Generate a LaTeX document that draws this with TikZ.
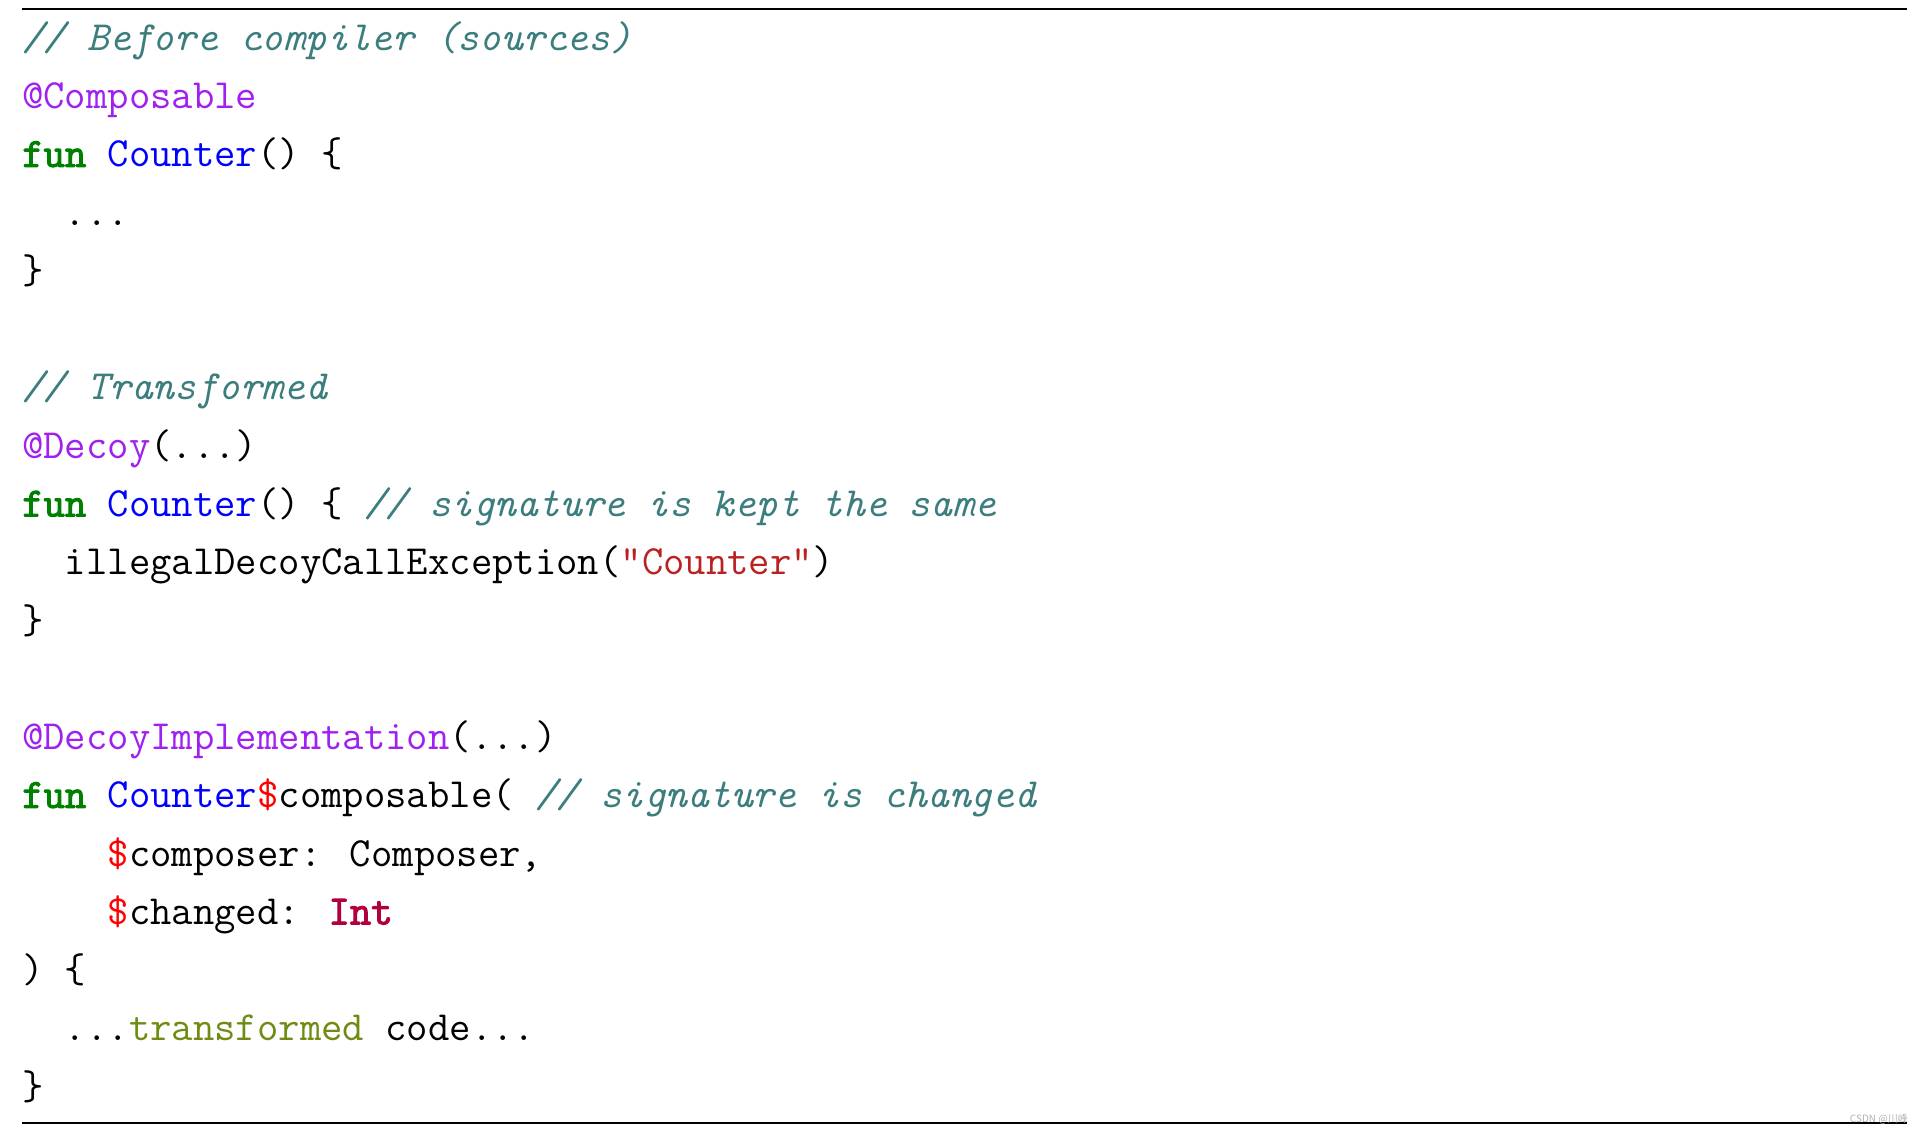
\documentclass[tikz,border=0pt]{standalone}
\usepackage{fontspec}
\setmainfont{Latin Modern Mono}[AutoFakeBold=2.5]
\newfontfamily\cjk{Noto Sans CJK SC}
\definecolor{cmt}{RGB}{60,125,125}
\definecolor{ann}{RGB}{160,32,240}
\definecolor{kw}{RGB}{0,128,0}
\definecolor{fn}{RGB}{0,0,255}
\definecolor{str}{RGB}{186,33,33}
\definecolor{dol}{RGB}{255,0,0}
\definecolor{ty}{RGB}{176,0,64}
\definecolor{olv}{RGB}{110,140,20}
\newcommand{\Cm}[1]{\textcolor{cmt}{\itshape #1}}
\newcommand{\An}[1]{\textcolor{ann}{#1}}
\newcommand{\Kw}[1]{\textcolor{kw}{\bfseries #1}}
\newcommand{\Fn}[1]{\textcolor{fn}{#1}}
\newcommand{\Ind}[1]{\phantom{#1}}
\begin{document}
\begin{tikzpicture}[x=1pt,y=-1pt,
  ln/.style={anchor=base west,inner sep=0pt,font=\fontsize{41.5}{50}\selectfont}]
\useasboundingbox (0,0) rectangle (1916,1130);
\draw[line width=1.6pt] (22,9) -- (1907,9);
\draw[line width=1.6pt] (22,1123) -- (1907,1123);
\def\b#1{50.3+58.27*#1}
\node[ln] (l0) at (22,{\b0}) {\Cm{// Before compiler (sources)}};
\node[ln] (l1) at (22,{\b1}) {\An{@Composable}};
\node[ln] (l2) at (22,{\b2}) {\Kw{fun} \Fn{Counter}() \{};
\node[ln] (l3) at (22,{\b3}) {\Ind{xx}...};
\node[ln] (l4) at (22,{\b4}) {\}};
\node[ln] (l6) at (22,{\b6}) {\Cm{// Transformed}};
\node[ln] (l7) at (22,{\b7}) {\An{@Decoy}(...)};
\node[ln] (l8) at (22,{\b8}) {\Kw{fun} \Fn{Counter}() \{ \Cm{// signature is kept the same}};
\node[ln] (l9) at (22,{\b9}) {\Ind{xx}illegalDecoyCallException(\textcolor{str}{"Counter"})};
\node[ln] (l10) at (22,{\b{10}}) {\}};
\node[ln] (l12) at (22,{\b{12}}) {\An{@DecoyImplementation}(...)};
\node[ln] (l13) at (22,{\b{13}}) {\Kw{fun} \Fn{Counter}\textcolor{dol}{\$}composable( \Cm{// signature is changed}};
\node[ln] (l14) at (22,{\b{14}}) {\Ind{xxxx}\textcolor{dol}{\$}composer: Composer,};
\node[ln] (l15) at (22,{\b{15}}) {\Ind{xxxx}\textcolor{dol}{\$}changed: \textcolor{ty}{\bfseries Int}};
\node[ln] (l16) at (22,{\b{16}}) {) \{};
\node[ln] (l17) at (22,{\b{17}}) {\Ind{xx}...\textcolor{olv}{transformed} code...};
\node[ln] (l18) at (22,{\b{18}}) {\}};
\node[anchor=base east,inner sep=0pt,text=gray!60,font=\cjk\fontsize{10}{12}\selectfont] (wm) at (1908,1122) {CSDN @川峰};
\end{tikzpicture}
\end{document}
